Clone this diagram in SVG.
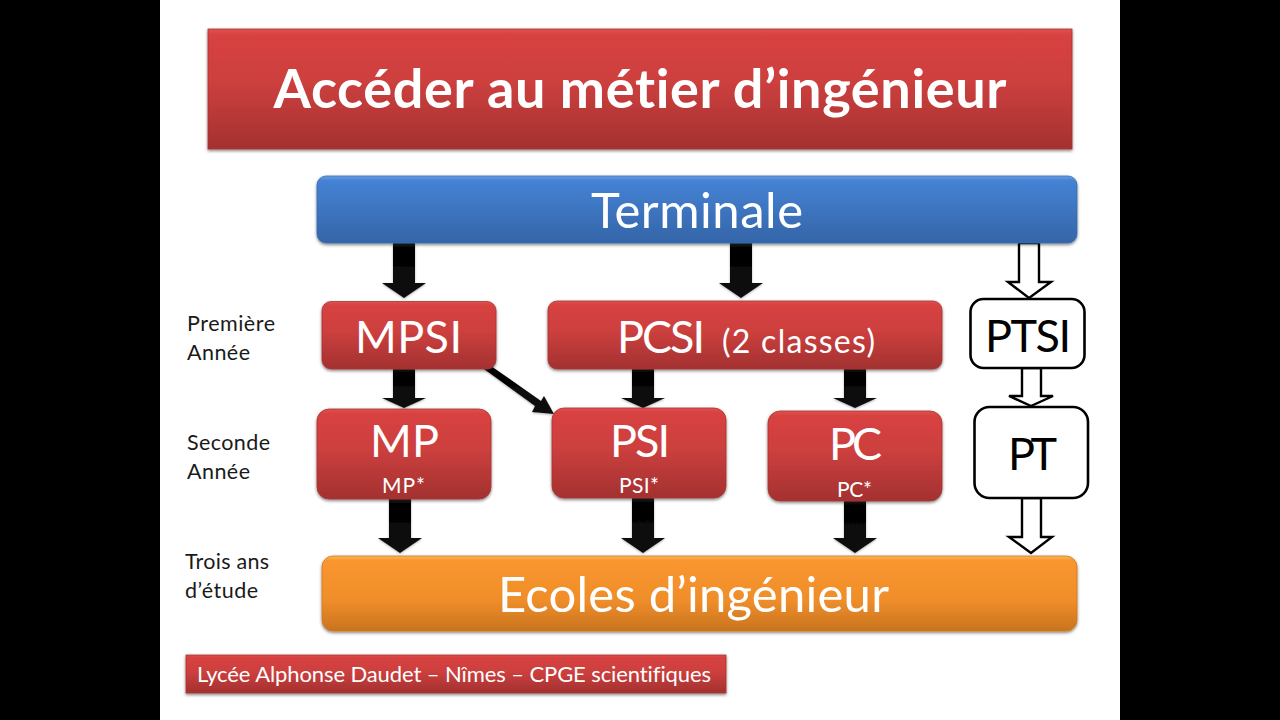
<svg xmlns="http://www.w3.org/2000/svg" width="1280" height="720" viewBox="0 0 1280 720">
<style>
text{font-family:"Lato","Carlito","Open Sans",sans-serif;fill:#fff;font-variant-ligatures:none}
.side{fill:#1a1a1a;font-size:21.5px}
.red{fill:url(#red);filter:url(#sh);stroke:#a83434;stroke-width:.8}
.blackA{fill:url(#blk);filter:url(#sh2)}
.whiteA{fill:#fff;stroke:#000;stroke-width:2.4;stroke-linejoin:miter}
.wbox{fill:#fff;stroke:#000;stroke-width:2.6}
.big{font-size:45px}
.blk{fill:#000}
.small{font-size:21px}
</style>
<defs>
<linearGradient id="red" x1="0" y1="0" x2="0" y2="1"><stop offset="0" stop-color="#dd5452"/><stop offset=".05" stop-color="#d84240"/><stop offset=".45" stop-color="#cc3f3e"/><stop offset="1" stop-color="#a33130"/></linearGradient>
<linearGradient id="blue" x1="0" y1="0" x2="0" y2="1"><stop offset="0" stop-color="#6a9fe0"/><stop offset=".07" stop-color="#4482d4"/><stop offset="1" stop-color="#3565a8"/></linearGradient>
<linearGradient id="orange" x1="0" y1="0" x2="0" y2="1"><stop offset="0" stop-color="#fbb85a"/><stop offset=".06" stop-color="#f9962f"/><stop offset=".6" stop-color="#ef8d2a"/><stop offset="1" stop-color="#c8741e"/></linearGradient>
<linearGradient id="blk" x1="0" y1="0" x2="0" y2="1"><stop offset="0" stop-color="#2a2a2a"/><stop offset=".08" stop-color="#000"/><stop offset="1" stop-color="#111"/></linearGradient>
<filter id="sh" x="-5%" y="-10%" width="110%" height="125%"><feDropShadow dx="0" dy="1.5" stdDeviation="1.5" flood-color="#000" flood-opacity=".5"/></filter>
<filter id="sh2" x="-20%" y="-10%" width="140%" height="125%"><feDropShadow dx="0" dy="1" stdDeviation="1" flood-color="#000" flood-opacity=".3"/></filter>
</defs>
<rect width="1280" height="720" fill="#000"/>
<rect x="160" width="960" height="720" fill="#fff"/>

<g id="connectors">
<polygon class="blackA" points="393,243 415,243 415,283 426,283 404,298 382,283 393,283"/>
<polygon class="blackA" points="730,243 752,243 752,283 763,283 741,298 719,283 730,283"/>
<polygon class="blackA" points="393,369 415,369 415,398 426,398 404,408 382,398 393,398"/>
<polygon class="blackA" points="632,369 654,369 654,398 665,398 643,408 621,398 632,398"/>
<polygon class="blackA" points="844,369 866,369 866,398 877,398 855,408 833,398 844,398"/>
<polygon class="blackA" points="389,499 411,499 411,538 422,538 400,553 378,538 389,538"/>
<polygon class="blackA" points="632,498 654,498 654,538 665,538 643,553 621,538 632,538"/>
<polygon class="blackA" points="844,501 866,501 866,538 877,538 855,553 833,538 844,538"/>
<polygon class="blackA" points="491,366 484,369 535,406 532,412 554,414 544,396 541,401"/>
<polygon class="whiteA" points="1019,243 1039,243 1039,282 1051,282 1029,298 1008,282 1019,282"/>
<polygon class="whiteA" points="1022,368 1041,368 1041,396 1053,396 1031,406 1009,396 1022,396"/>
<polygon class="whiteA" points="1022,498 1041,498 1041,537 1052,537 1031,553 1009,537 1022,537"/>
</g>

<g id="title"><rect class="red" x="208" y="29" width="864" height="120"/><text x="640" y="108" font-size="54" font-weight="700" text-anchor="middle" textLength="733">Accéder au métier d’ingénieur</text></g>
<g id="terminale"><rect x="317" y="176" width="760" height="67" rx="9" fill="url(#blue)" stroke="#3a6cae" stroke-width=".8" filter="url(#sh)"/><text x="697" y="228" font-size="49" text-anchor="middle" textLength="212">Terminale</text></g>
<g id="mpsi"><rect class="red" x="322" y="301.500" width="174" height="67.500" rx="9"/><text class="big" x="408.500" y="353" text-anchor="middle" textLength="107">MPSI</text></g>
<g id="pcsi"><rect class="red" x="548" y="301" width="394" height="68" rx="9"/><text class="big" x="617" y="353" textLength="88">PCSI</text><text x="722" y="353" font-size="32" textLength="153">(2 classes)</text></g>
<g id="ptsi"><rect class="wbox" x="970.500" y="299" width="114" height="69" rx="13"/><text class="big blk" x="1028" y="352" text-anchor="middle" textLength="86">PTSI</text></g>
<g id="mp"><rect class="red" x="317" y="409" width="174" height="90" rx="12"/><text class="big" x="404.500" y="457" text-anchor="middle" textLength="69">MP</text><text class="small" x="403.500" y="493" text-anchor="middle" textLength="43">MP*</text></g>
<g id="psi"><rect class="red" x="552" y="408" width="174" height="90" rx="12"/><text class="big" x="640" y="457" text-anchor="middle" textLength="60">PSI</text><text class="small" x="639" y="493" text-anchor="middle" textLength="40">PSI*</text></g>
<g id="pc"><rect class="red" x="768" y="411" width="174" height="90" rx="12"/><text class="big" x="855.500" y="460" text-anchor="middle" textLength="53">PC</text><text class="small" x="854.500" y="497" text-anchor="middle" textLength="35">PC*</text></g>
<g id="pt"><rect class="wbox" x="974.500" y="407" width="113.500" height="91" rx="15"/><text class="big blk" x="1032.500" y="470" text-anchor="middle" textLength="49">PT</text></g>
<g id="ecoles"><rect x="322" y="556" width="755" height="75" rx="11" fill="url(#orange)" stroke="#d07a20" stroke-width=".8" filter="url(#sh)"/><text x="693.500" y="612" font-size="49" text-anchor="middle" textLength="391">Ecoles d’ingénieur</text></g>
<g id="footer"><rect class="red" x="186" y="655" width="540" height="38"/><text x="197" y="682" font-size="22" textLength="514">Lycée Alphonse Daudet – Nîmes – CPGE scientifiques</text></g>

<g id="labels">
<text class="side" x="187" y="331" textLength="88">Première</text>
<text class="side" x="187" y="360" textLength="63">Année</text>
<text class="side" x="187" y="450" textLength="83">Seconde</text>
<text class="side" x="187" y="479" textLength="63">Année</text>
<text class="side" x="185" y="569" textLength="84">Trois ans</text>
<text class="side" x="185" y="598" textLength="73">d’étude</text>
</g>
</svg>
